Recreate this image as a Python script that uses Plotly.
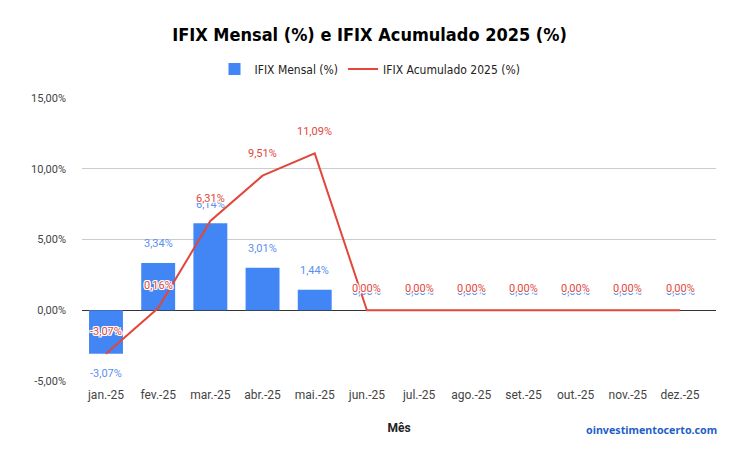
import plotly.graph_objects as go

meses = ["jan.-25", "fev.-25", "mar.-25", "abr.-25", "mai.-25", "jun.-25", "jul.-25",
         "ago.-25", "set.-25", "out.-25", "nov.-25", "dez.-25"]
ifix_mensal = [-3.07, 3.34, 6.14, 3.01, 1.44, 0, 0, 0, 0, 0, 0, 0]
ifix_acumulado = [-3.07, 0.16, 6.31, 9.51, 11.09, 0, 0, 0, 0, 0, 0, 0]
y_ticks = [-5, 0, 5, 10, 15]

BLUE = "#4285F4"
RED = "#E0483B"
LABEL_BLUE = "#5A8FEF"

def fmt(v):
    return f"{v:.2f}".replace(".", ",") + "%"

fig = go.Figure()
fig.add_trace(go.Bar(x=meses, y=ifix_mensal, name="IFIX Mensal (%)",
                     marker=dict(color=BLUE, line=dict(width=0)), width=0.65))
fig.add_trace(go.Scatter(x=meses, y=ifix_acumulado, name="IFIX Acumulado 2025 (%)",
                         mode="lines", line=dict(color=RED, width=2)))

annotations = []
halo = "1px 1px 0 white, -1px -1px 0 white, 1px -1px 0 white, -1px 1px 0 white, 0 1px 0 white, 0 -1px 0 white, 1px 0 0 white, -1px 0 0 white"
for m, v in zip(meses, ifix_mensal):
    annotations.append(dict(x=m, y=v, xref="x", yref="y", text=fmt(v), showarrow=False,
                            yshift=(-20 if v < 0 else 19),
                            font=dict(family="Roboto", size=11, color=LABEL_BLUE)))
for m, v in zip(meses, ifix_acumulado):
    annotations.append(dict(x=m, y=v, xref="x", yref="y", text=fmt(v), showarrow=False,
                            yshift=22,
                            font=dict(family="Roboto", size=11, color=RED, shadow=halo)))
annotations.append(dict(x=(719 - 82) / 634, y=-(430 - 381) / 283,
                        xref="paper", yref="paper", text="<b>oinvestimentocerto.com</b>",
                        showarrow=False, xanchor="right", yanchor="middle",
                        font=dict(family="Noto Sans", size=10.7, color="#1F5FC8")))

fig.update_layout(
    width=739, height=457,
    margin=dict(l=82, r=23, t=98, b=76),
    paper_bgcolor="white", plot_bgcolor="white",
    title=dict(text="<b>IFIX Mensal (%) e IFIX Acumulado 2025 (%)</b>", x=0.5, xanchor="center",
               y=1 - 35 / 457, yanchor="middle",
               font=dict(family="DejaVu Sans Condensed", size=18, color="#000000")),
    legend=dict(orientation="h", x=(370 - 82) / 634, xanchor="center", y=1 + (98 - 69) / 283, yanchor="middle",
                font=dict(family="DejaVu Sans Condensed", size=12, color="#222222"),
                itemwidth=30, traceorder="normal"),
    separators=",.",
    showlegend=True,
    annotations=annotations,
    bargap=0.35,
)
fig.update_xaxes(range=[-0.46, 11.69], showgrid=False, showline=False, ticks="",
                 tickfont=dict(family="Roboto", size=12, color="#444444"), ticklabelstandoff=5,
                 title=dict(text="<b>Mês</b>", font=dict(family="Roboto", size=12, color="#222222"), standoff=22))
fig.update_yaxes(range=[-5, 15], tickmode="array", tickvals=y_ticks, ticktext=[fmt(v) for v in y_ticks],
                 showgrid=True, gridcolor="#CCCCCC", gridwidth=1,
                 zeroline=True, zerolinecolor="#333333", zerolinewidth=1,
                 tickfont=dict(family="Roboto", size=11, color="#444444"), ticklabelstandoff=15)

fig.write_html("out.html")
